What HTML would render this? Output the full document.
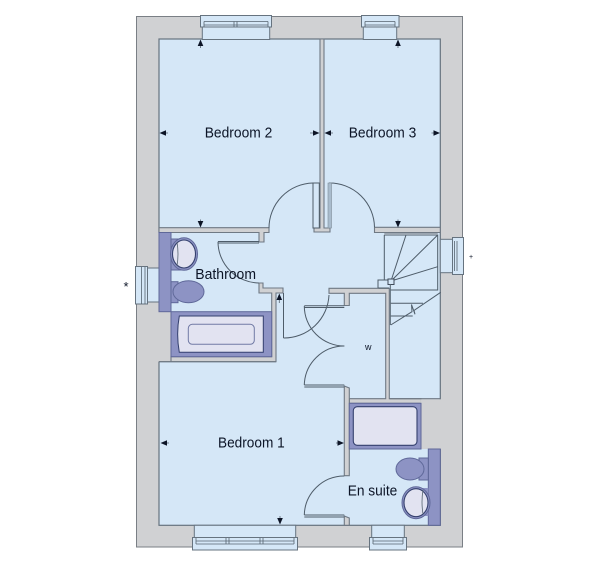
<!DOCTYPE html>
<html>
<head>
<meta charset="utf-8">
<style>
html,body{margin:0;padding:0;background:#fff;width:600px;height:566px;overflow:hidden}
svg{display:block}
text{font-family:"Liberation Sans",sans-serif;fill:#0c1426}
.w{fill:#d0d1d3;stroke:#6f7984;stroke-width:1.1}
.l{fill:none;stroke:#4e5c69;stroke-width:1}
.b{fill:#d5e7f7;stroke:#66737f;stroke-width:1}
.p{fill:#8d93c4;stroke:#5f6899;stroke-width:1}
.q{fill:#e2e3f1;stroke:#34406e;stroke-width:1.1}
.a{fill:#0c1426}
.t{stroke:#55636f;stroke-width:.8;fill:none}
</style>
</head>
<body>
<svg width="600" height="566" viewBox="0 0 600 566" xmlns="http://www.w3.org/2000/svg">
<!-- outer shell -->
<rect x="136.5" y="16.5" width="326" height="530.5" fill="#d0d1d3" stroke="#7a7f85"/>
<!-- interior -->
<rect x="159" y="39" width="281.3" height="486.3" fill="#d5e7f7" stroke="#66737f" stroke-width="1.2"/>
<rect x="157.5" y="232.5" width="13" height="129" fill="#d0d1d3"/>
<!-- walls -->
<polygon class="w" points="320,39 324,39 324,228 330,228 330,232 314,232 314,228 320,228"/>
<polygon class="w" points="159,227.7 269,227.7 269,232.5 264,232.5 264,242 259,242 259,232.5 159,232.5"/>
<polygon class="w" points="259,283 263,283 263,288 283,288 283,293 276,293 276,361.7 159,361.7 171,361.7 171,356.7 271.7,356.7 271.7,293 259,293"/>
<polygon class="w" points="329,288.3 389.3,288.3 389.3,398.7 421,398.7 421,403.3 349.3,403.3 349.3,398.7 385.7,398.7 385.7,293.3 349.3,293.3 349.3,305.5 344.3,305.5 344.3,293.3 329,293.3"/>
<polygon class="w" points="344.3,386 349.3,388 349.3,475.7 344.3,475.7"/>
<polygon class="w" points="344.3,516 349.3,518 349.3,525.3 344.3,525.3"/>
<polygon class="w" points="374.5,227.3 440.3,227.3 440.3,232.5 374.5,232.5"/>
<rect x="420.5" y="399.2" width="21" height="49.8" fill="#d0d1d3"/>
<line x1="389.3" y1="398.7" x2="440.6" y2="398.7" stroke="#6f7984" stroke-width="1.1"/>
<line x1="159" y1="361.7" x2="276" y2="361.7" stroke="#6f7984" stroke-width="1.1"/>
<!-- windows -->
<g>
<rect class="b" x="202.3" y="26" width="67.4" height="13.5"/>
<rect class="b" x="200.5" y="15.5" width="71" height="11.5"/>
<path class="t" d="M204 21.5H268M204 25H268M204 21.5V27M268 21.5V27M234 21.5V27M237 21.5V27"/>
<rect class="b" x="363.3" y="26" width="33.4" height="13.5"/>
<rect class="b" x="361.5" y="15.5" width="37.5" height="11.5"/>
<path class="t" d="M365 21.5H395M365 25H395M365 21.5V27M395 21.5V27"/>
<rect class="b" x="146" y="268" width="13" height="34"/>
<rect class="b" x="135.5" y="266.5" width="12" height="37.5"/>
<path class="t" d="M141.5 267V304M145 267V304"/>
<rect class="b" x="440.3" y="239.3" width="13" height="33.4"/>
<rect class="b" x="452.5" y="237.5" width="11" height="37"/>
<path class="t" d="M457 241V271M454.5 241V271"/>
<rect class="b" x="194.3" y="525.3" width="101.4" height="13"/>
<rect class="b" x="192.5" y="537.5" width="105" height="12.5"/>
<path class="t" d="M196 541H294M196 544H294M196 538V544M294 538V544M226 538V544M229 538V544M260 538V544M263 538V544"/>
<rect class="b" x="371.7" y="525.3" width="32.6" height="13"/>
<rect class="b" x="369.5" y="537.5" width="37" height="12.5"/>
<path class="t" d="M373 541H403M373 544H403M373 538V544M403 538V544"/>
</g>
<!-- doors -->
<path class="l" d="M313 183A45 45 0 0 0 269 228"/>
<rect x="313" y="183" width="6.3" height="45" fill="#d5e7f7" stroke="#4e5c69"/>
<path class="l" d="M329 183A45 45 0 0 1 374.5 227.3"/>
<rect x="328" y="183" width="3.5" height="45" fill="#a9bccd" stroke="#7f8d99" stroke-width=".6"/>
<path class="l" d="M218 241.7A41.5 41.5 0 0 0 259 283"/>
<path class="l" d="M218 241.5H259M218 243H259"/>
<path class="l" d="M283.5 338A45 45 0 0 0 329 295"/>
<path class="l" d="M283.5 293V338"/>
<path class="l" d="M304.3 306A40 40 0 0 0 344.3 346"/>
<path class="l" d="M304.3 305.7H344.3M304.3 307.5H344.3"/>
<path class="l" d="M344.3 346A40 40 0 0 0 304.3 385"/>
<path class="l" d="M304.3 385H344.3M304.3 387H344.3"/>
<path class="l" d="M344.3 476A40 40 0 0 0 304.3 515"/>
<path class="l" d="M304.3 515H344.3M304.3 517H344.3"/>
<!-- bathroom fittings -->
<rect class="p" x="159" y="232.5" width="12" height="79.2"/>
<rect class="p" x="171" y="311.7" width="100.7" height="45"/>
<path d="M179.3 316H263.3V352.3H179.3Q176 334 179.3 316Z" fill="#e2e3f1" stroke="#34406e"/>
<rect x="188.3" y="324.3" width="66" height="20" rx="4" fill="#e2e3f1" stroke="#717aa5"/>
<rect class="p" x="171" y="239" width="13" height="31"/>
<ellipse class="p" cx="184" cy="254" rx="13.5" ry="16.3"/>
<ellipse class="q" cx="184" cy="254" rx="11.5" ry="14"/>
<path class="t" d="M177 242Q179 254 177 266"/>
<rect class="p" x="171" y="281.7" width="7" height="21"/>
<ellipse class="p" cx="188.5" cy="291.7" rx="15.5" ry="11"/>
<!-- en suite fittings -->
<rect class="p" x="349.3" y="403.3" width="71.7" height="45.7"/>
<rect class="q" x="353.3" y="406.7" width="63.7" height="38.6" rx="4"/>
<rect class="p" x="428.3" y="449" width="12" height="76.3"/>
<rect class="p" x="419" y="458" width="9.3" height="22"/>
<ellipse class="p" cx="410" cy="469" rx="14" ry="11"/>
<rect x="419" y="488" width="9.3" height="28" fill="#8d93c4"/>
<ellipse class="p" cx="416" cy="502.7" rx="14" ry="16"/>
<ellipse class="q" cx="416" cy="502.7" rx="12" ry="14"/>
<path class="t" d="M423 490Q421 502 423 514"/>
<!-- stairs -->
<path class="l" d="M384.3 235H437.7V290H390.7M384.3 235V280M391 281L406 235M391 281L437.7 235M391 281L437.7 266.7M390.7 303.3H423M390.7 316H412.7M390.7 325L412 311.7L411.5 304.5L415 314.3L414 310.5L440.7 292.3"/>
<path class="l" d="M378 288V280H388M378.5 288H389"/>
<rect x="388" y="279" width="6" height="5.5" fill="#d5e7f7" stroke="#3f4a58"/>
<line x1="390.3" y1="284" x2="390.3" y2="325" stroke="#55636f"/>
<line x1="384.3" y1="234" x2="437.7" y2="234" stroke="#9aa5b0" stroke-width="2"/>
<!-- arrows -->
<g class="a">
<polygon points="200.5,39.5 197.7,46 203.3,46"/>
<polygon points="398,39.5 395.2,46 400.8,46"/>
<polygon points="159.5,133 166,130.2 166,135.8"/>
<polygon points="319.5,133 313,130.2 313,135.8"/>
<polygon points="324.5,133 331,130.2 331,135.8"/>
<polygon points="440,133 433.5,130.2 433.5,135.8"/>
<polygon points="200.5,227.5 197.7,221 203.3,221"/>
<polygon points="398,227.5 395.2,221 400.8,221"/>
<polygon points="279.3,293.5 276.5,300 282.1,300"/>
<polygon points="160.5,443 167,440.2 167,445.8"/>
<polygon points="280,524.5 277.2,518 282.8,518"/>
<polygon points="344,443 337.5,440.2 337.5,445.8"/>
</g>
<path class="t" d="M200.5 46V48M398 46V48M166 133H168M310 133H313M331 133H333M431.5 133H433.5M200.5 219.5V221M398 219.5V221M279.3 300V303M167 443H169M280 516V518M336 443H337.5"/>
<!-- labels -->
<text x="204.7" y="137.7" font-size="15" textLength="67.6" lengthAdjust="spacingAndGlyphs">Bedroom 2</text>
<text x="348.7" y="137.7" font-size="15" textLength="67.6" lengthAdjust="spacingAndGlyphs">Bedroom 3</text>
<text x="218" y="447.7" font-size="15" textLength="66.7" lengthAdjust="spacingAndGlyphs">Bedroom 1</text>
<text x="195.3" y="279" font-size="15" textLength="60.7" lengthAdjust="spacingAndGlyphs">Bathroom</text>
<text x="347.7" y="495.7" font-size="15" textLength="49.6" lengthAdjust="spacingAndGlyphs">En suite</text>
<text x="365" y="350" font-size="9">w</text>
<text x="123.5" y="291" font-size="13">*</text>
<text x="469" y="259" font-size="7">+</text>
</svg>
</body>
</html>
